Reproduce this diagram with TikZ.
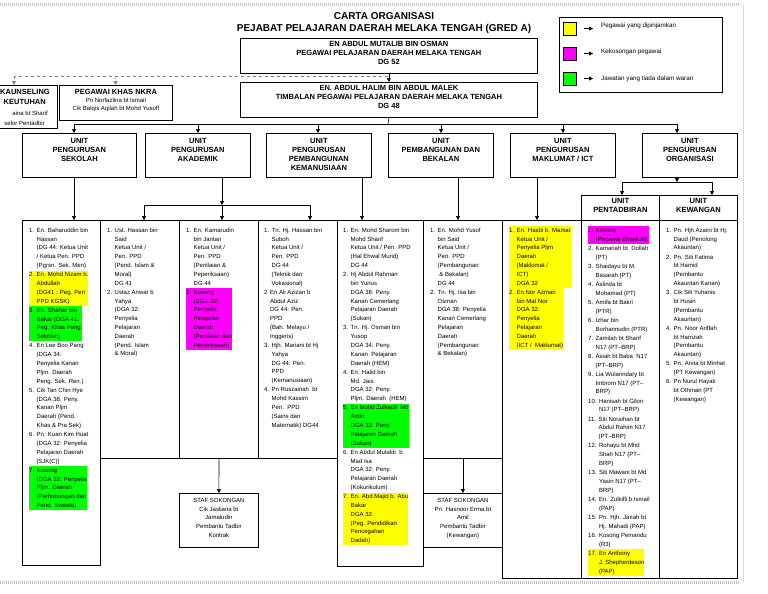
\documentclass[tikz,border=0pt]{standalone}
\usepackage{fontspec}
\setmainfont{Liberation Sans}
\usetikzlibrary{arrows.meta}
\definecolor{yel}{HTML}{FFFF00}
\definecolor{mag}{HTML}{FF00FF}
\definecolor{grn}{HTML}{00FF00}
\newcommand\fs{\fontsize{6}{8.8}\selectfont}
\newcommand\hd{\fontsize{7.5}{9.2}\selectfont\bfseries}
\newcommand\itm[2]{\begin{tabular}{@{}l@{\hspace{2.5pt}}l@{}}#1&#2\end{tabular}}
\tikzset{
  arr/.style={-{Triangle[length=4pt,width=4pt]}, line width=0.6pt},
  box/.style={draw, line width=0.8pt, inner sep=0pt, anchor=north west},
  it/.style={anchor=north west, inner sep=0pt, font=\fs, align=left},
  ttl/.style={anchor=north, inner sep=0pt, font=\hd, align=center},
  sm/.style={inner sep=0pt, font=\fs, align=center},
  hatch/.style={gray!45, line width=3pt, dash pattern=on 1.2pt off 0.8pt}
}
\begin{document}
\begin{tikzpicture}[x=1pt,y=-1pt]
\useasboundingbox (0,0) rectangle (768,594);
\clip (0,0) rectangle (768,594);
\fill[white] (0,0) rectangle (768,594);
\draw[hatch] (0,5) -- (740,5);
\draw[hatch] (0,582) -- (740,582);
\draw[gray!30, line width=1pt] (743,5) -- (743,582);

% title
\node[font=\fontsize{10}{12}\selectfont\bfseries, align=center] (title) at (384,23) {CARTA ORGANISASI\\PEJABAT PELAJARAN DAERAH MELAKA TENGAH (GRED A)};

% top boxes
\node[box, minimum width=297, minimum height=35] (ppd) at (240,38) {};
\node[ttl] (ppdT) at ([yshift=-3pt]ppd.north) {EN ABDUL MUTALIB BIN OSMAN\\PEGAWAI PELAJARAN DAERAH MELAKA TENGAH\\DG 52};
\node[box, minimum width=297, minimum height=35] (tppd) at (240,82) {};
\node[ttl] (tppdT) at ([yshift=-3pt]tppd.north) {EN. ABDUL HALIM BIN ABDUL MALEK\\TIMBALAN PEGAWAI PELAJARAN DAERAH MELAKA TENGAH\\DG 48};
\draw[arr] (ppd.south) -- (tppd.north);

\node[box, minimum width=97, minimum height=43] (kau) at (-40,85) {};
\node[font=\hd, anchor=east, inner sep=0pt] (kau1) at (50,92) {KAUNSELING};
\node[font=\hd, anchor=east, inner sep=0pt] (kau2) at (46,102) {KEUTUHAN};
\node[font=\fs, anchor=east, inner sep=0pt] (kau3) at (48,113) {aina bt Sharif};
\node[font=\fs, anchor=east, inner sep=0pt] (kau4) at (45,123) {selor Pentadbir};
\node[box, minimum width=113, minimum height=35] (nkra) at (59,85) {};
\node[ttl] (nkraT) at ([yshift=-4pt]nkra.north) {PEGAWAI KHAS NKRA\\[-1pt]{\fs\mdseries Pn Norfazlina bt Ismail}\\[-1pt]{\fs\mdseries Cik Balqis Aqilah bt Mohd Yusoff}};
\coordinate (dj) at (388,76);
\draw[dashed, gray, line width=0.7pt] (dj) -- (14,76);
\draw[arr, dashed, gray] (14,76) -- (14,85);
\draw[arr, dashed, gray] (115,76) -- (nkra.north);

% unit boxes
\node[box, minimum width=114, minimum height=44] (sek) at (22,133) {};
\node[ttl] (sekT) at ([yshift=-5pt]sek.north) {UNIT\\PENGURUSAN\\SEKOLAH};
\node[box, minimum width=105, minimum height=44] (aka) at (145,133) {};
\node[ttl] (akaT) at ([yshift=-5pt]aka.north) {UNIT\\PENGURUSAN\\AKADEMIK};
\node[box, minimum width=105, minimum height=44] (kem) at (266,133) {};
\node[ttl] (kemT) at ([yshift=-5pt]kem.north) {UNIT\\PENGURUSAN\\PEMBANGUNAN\\KEMANUSIAAN};
\node[box, minimum width=105, minimum height=44] (pem) at (388,133) {};
\node[ttl] (pemT) at ([yshift=-5pt]pem.north) {UNIT\\PEMBANGUNAN DAN\\BEKALAN};
\node[box, minimum width=105, minimum height=44] (mak) at (510,133) {};
\node[ttl] (makT) at ([yshift=-5pt]mak.north) {UNIT\\PENGURUSAN\\MAKLUMAT / ICT};
\node[box, minimum width=95, minimum height=44] (org) at (642,133) {};
\node[ttl] (orgT) at ([yshift=-5pt]org.north) {UNIT\\PENGURUSAN\\ORGANISASI};

\draw[line width=0.6pt] (tppd.south) -- (388,124);
\draw[line width=0.6pt] (74,124) -- (677,124);
\draw[arr] (74,124) -- (74,133);
\draw[arr] (198,124) -- (198,133);
\draw[arr] (318,124) -- (318,133);
\draw[arr] (441,124) -- (441,133);
\draw[arr] (563,124) -- (563,133);
\draw[arr] (677,124) -- (677,133);

% column boxes
\node[box, minimum width=78, minimum height=345] (k1) at (22,220) {};
\node[box, minimum width=79, minimum height=238] (k2) at (100,220) {};
\node[box, minimum width=79, minimum height=238] (k3) at (179,220) {};
\node[box, minimum width=79, minimum height=238] (k4) at (258,220) {};
\node[box, minimum width=86, minimum height=346] (k5) at (337,220) {};
\node[box, minimum width=79, minimum height=238] (k6) at (423,220) {};
\node[box, minimum width=79, minimum height=358] (k7) at (502,220) {};
\node[box, minimum width=78, minimum height=25] (pent) at (581,195) {};
\node[ttl] (pentT) at ([yshift=-3pt]pent.north) {UNIT\\PENTADBIRAN};
\node[box, minimum width=78, minimum height=25] (kew) at (659,195) {};
\node[ttl] (kewT) at ([yshift=-3pt]kew.north) {UNIT\\KEWANGAN};
\node[box, minimum width=78, minimum height=358] (k8) at (581,220) {};
\node[box, minimum width=78, minimum height=358] (k9) at (659,220) {};

% connectors to columns
\draw[arr] (74,177) -- (74,220);
\draw[arr] (222,177) -- (222,205);
\draw[line width=0.6pt] (144,205) -- (310,205);
\draw[arr] (144,205) -- (144,220);
\draw[arr] (222,205) -- (222,220);
\draw[arr] (310,205) -- (310,220);
\draw[arr] (362,177) -- (362,220);
\draw[arr] (458,177) -- (458,220);
\draw[arr] (537,177) -- (537,220);
\draw[arr] (677,177) -- (677,182);
\draw[line width=0.6pt] (622,182) -- (712,182);
\draw[arr] (622,182) -- (622,195);
\draw[arr] (712,182) -- (712,195);

% staff boxes
\node[box, minimum width=79, minimum height=54] (st1) at (179,493) {};
\node[sm, anchor=north] (st1T) at ([yshift=-5pt]st1.north) {STAF SOKONGAN\\Cik Jasliana bt\\Jamaludin\\Pembantu Tadbir\\Kontrak};
\draw[arr] (219,458) -- (st1.north);
\node[box, minimum width=79, minimum height=54] (st2) at (423,493) {};
\node[sm, anchor=north] (st2T) at ([yshift=-5pt]st2.north) {STAF SOKONGAN\\Pn. Hasnoor Erma bt\\Amil\\Pembantu Tadbir\\(Kewangan)};
\draw[arr] (k6.south) -- (st2.north);

% column 1
\node[it] (c1a) at (29,226) {\itm{1.}{En. Baharuddin bin\\&Hassan\\&(DG 44: Ketua Unit\\&/ Ketua Pen. PPD\\&(Pgrsn. Sek. Men)}};
\node[it, fill=yel] (c1b) at (c1a.south west) {\itm{2.}{En. Mohd Nizam b.\\&Abdullah\\&(DG41 : Peg. Pen\\&PPD KGSK)}};
\node[it, fill=grn] (c1c) at (c1b.south west) {\itm{3.}{En. Shahar bin\\&Bakar (DGA 41:\\&Peg. Khas Peng.\\&Sekolah)}};
\node[it] (c1d) at (c1c.south west) {\itm{4.}{En Lee Boo Pang\\&(DGA 34:\\&Penyelia Kanan\\&Pljm. Daerah\\&Peng. Sek. Ren.)}};
\node[it] (c1e) at (c1d.south west) {\itm{5.}{Cik Tan Chin Hye\\&(DGA 38: Peny.\\&Kanan Pljm\\&Daerah (Pend.\\&Khas \& Pra Sek)}};
\node[it] (c1f) at (c1e.south west) {\itm{6.}{Pn. Kuan Kim Huat\\&(DGA 32: Penyelia\\&Pelajaran Daerah\\&[SJK(C)]}};
\node[it, fill=grn] (c1g) at (c1f.south west) {\itm{7.}{Kosong\\&(DGA 32: Penyelia\\&Pljm. Daerah\\&(Perhubungan dan\\&Pend. Swasta)}};

% column 2
\node[it] (c2a) at (107,226) {\itm{1.}{Ust. Hassan bin\\&Said\\&Ketua Unit /\\&Pen. PPD\\&(Pend. Islam \&\\&Moral)\\&DG 41}};
\node[it] (c2b) at (c2a.south west) {\itm{2.}{Ustaz Anwar b\\&Yahya\\&(DGA 32:\\&Penyelia\\&Pelajaran\\&Daerah\\&(Pend. Islam\\&\& Moral)}};

% column 3
\node[it] (c3a) at (186,226) {\itm{1.}{En. Kamarudin\\&bin Jantan\\&Ketua Unit /\\&Pen. PPD\\&(Penilaian \&\\&Peperiksaan)\\&DG 44}};
\node[it, fill=mag] (c3b) at (c3a.south west) {\itm{2.}{Kosong\\&(DGA 32:\\&Penyelia\\&Pelajaran\\&Daerah\\&(Penilaian dan\\&Peperiksaan)}};

% column 4
\node[it] (c4a) at (264,226) {\itm{1.}{Tn. Hj. Hassan bin\\&Suboh\\&Ketua Unit /\\&Pen. PPD\\&DG 44\\&(Teknik dan\\&Vokasional)}};
\node[it] (c4b) at (c4a.south west) {\itm{2}{En Ali Azizan b\\&Abdul Aziz\\&DG 44: Pen.\\&PPD\\&(Bah. Melayu /\\&Inggeris)}};
\node[it] (c4c) at (c4b.south west) {\itm{3.}{Hjh. Mariani bt Hj\\&Yahya\\&DG 44: Pen.\\&PPD\\&(Kemanusiaan)}};
\node[it] (c4d) at (c4c.south west) {\itm{4.}{Pn Ruszainah\ \ bt\\&Mohd Kassim\\&Pen.\ \ PPD\\&(Sains dan\\&Matematik) DG44}};

% column 5
\node[it] (c5a) at (343,226) {\itm{1.}{En. Mohd Sharom bin\\&Mohd Sharif\\&Ketua Unit / Pen. PPD\\&(Hal Ehwal Murid)\\&DG 44}};
\node[it] (c5b) at (c5a.south west) {\itm{2.}{Hj Abdul Rahman\\&bin Yunus\\&DGA 38: Peny.\\&Kanan Cemerlang\\&Pelajaran Daerah\\&(Sukan)}};
\node[it] (c5c) at (c5b.south west) {\itm{3.}{Tn. Hj. Osman bin\\&Yusop\\&DGA 34: Peny.\\&Kanan\ \ Pelajaran\\&Daerah (HEM)}};
\node[it] (c5d) at (c5c.south west) {\itm{4.}{En. Halid bin\\&Md. Jais\\&DGA 32: Peny.\\&Pljm. Daerah\ \ (HEM)}};
\node[it, fill=grn] (c5e) at (c5d.south west) {\itm{5.}{En Mohd Zulkepli\ \ Md\\&Amin\\&DGA 32: Peny.\\&Pelajaran Daerah\\&(Sukan)}};
\node[it] (c5f) at (c5e.south west) {\itm{6.}{En Abdul Mutalib\ \ b\\&Mad Isa\\&DGA 32: Peny.\\&Pelajaran Daerah\\&(Kokurikulum)}};
\node[it, fill=yel] (c5g) at (c5f.south west) {\itm{7.}{En. Abd.Majid b. Abu\\&Bakar\\&DGA 32:\\&(Peg. Pendidikan\\&Pencegahan\\&Dadah)}};

% column 6
\node[it] (c6a) at (430,226) {\itm{1.}{En. Mohd Yusof\\&bin Said\\&Ketua Unit /\\&Pen. PPD\\&(Pembangunan\\&\ \& Bekalan)\\&DG 44}};
\node[it] (c6b) at (c6a.south west) {\itm{2.}{Tn. Hj. Isa bin\\&Osman\\&DGA 38: Penyelia\\&Kanan Cemerlang\\&Pelajaran\\&Daerah\\&(Pembangunan\\&\& Bekalan)}};

% column 7
\node[it, fill=yel] (c7a) at (509,226) {\itm{1.}{En. Hasbi b. Mamat\\&Ketua Unit /\\&Penyelia Pljm\\&Daerah\\&(Maklumat /\\&ICT)\\&DGA 32}};
\node[it, fill=yel] (c7b) at (c7a.south west) {\itm{2.}{En.Nor Azman\\&bin Mat Nor\\&DGA 32:\\&Penyelia\\&Pelajaran\\&Daerah\\&(ICT /\ \ Maklumat)}};

% column 8
\node[it, fill=mag] (c8a) at (588,226) {\itm{1.}{Kosong\\&(Pegawai Eksekutif)}};
\node[it] (c8b) at (c8a.south west) {\itm{2.}{Kamariah bt\ \ Dollah\\&(PT)}};
\node[it] (c8c) at (c8b.south west) {\itm{3.}{Shaidayu bt M.\\&Basarah (PT)}};
\node[it] (c8d) at (c8c.south west) {\itm{4.}{Aslinda bt\\&Mohamad (PT)}};
\node[it] (c8e) at (c8d.south west) {\itm{5.}{Amifa bt Bakri\\&(PTR)}};
\node[it] (c8f) at (c8e.south west) {\itm{6.}{Izhar bin\\&Borhannudin (PTR)}};
\node[it] (c8g) at (c8f.south west) {\itm{7.}{Zamilah bt Sharif\\&N17 (PT--BRP)}};
\node[it] (c8h) at (c8g.south west) {\itm{8.}{Asiah bt Baba\ \ N17\\&(PT--BRP)}};
\node[it] (c8i) at (c8h.south west) {\itm{9.}{Lia Wulanndary bt\\&Imbrom N17 (PT--\\&BRP)}};
\node[it] (c8j) at (c8i.south west) {\itm{10.}{Hanisah bt Gilon\\&N17 (PT--BRP)}};
\node[it] (c8k) at (c8j.south west) {\itm{11.}{Siti Noraihan bt\\&Abdul Rahim N17\\&(PT--BRP)}};
\node[it] (c8l) at (c8k.south west) {\itm{12.}{Rohayu bt Mhd\\&Shah N17 (PT--\\&BRP)}};
\node[it] (c8m) at (c8l.south west) {\itm{13.}{Siti Mawani bt Md\\&Yasin N17 (PT--\\&BRP)}};
\node[it] (c8n) at (c8m.south west) {\itm{14.}{En. Zulkifli b Ismail\\&(PAP)}};
\node[it] (c8o) at (c8n.south west) {\itm{15.}{Pn. Hjh. Jariah bt\\&Hj. Mahadi (PAP)}};
\node[it] (c8p) at (c8o.south west) {\itm{16.}{Kosong Pemandu\\&(R3)}};
\node[it, fill=yel] (c8q) at (c8p.south west) {\itm{17.}{En Anthony\\&J. Shepherdeson\\&(PAP)}};

% column 9
\node[it] (c9a) at (666,226) {\itm{1.}{Pn. Hjh Azaini bt Hj.\\&Daud (Penolong\\&Akauntan)}};
\node[it] (c9b) at (c9a.south west) {\itm{2.}{Pn. Siti Fatima\\&bt Hamid\\&(Pembantu\\&Akauntan Kanan)}};
\node[it] (c9c) at (c9b.south west) {\itm{3.}{Cik Siti Yuhanis\\&bt Husin\\&(Pembantu\\&Akauntan)}};
\node[it] (c9d) at (c9c.south west) {\itm{4.}{Pn. Noor Ariffah\\&bt Hamzah\\&(Pembantu\\&Akauntan)}};
\node[it] (c9e) at (c9d.south west) {\itm{5.}{Pn. Anita bt Minhat\\&(PT Kewangan)}};
\node[it] (c9f) at (c9e.south west) {\itm{6.}{Pn Nurul Hayati\\&bt Othman (PT\\&(Kewangan)}};

% legend
\node[box, minimum width=163, minimum height=75] (leg) at (559,17) {};
\node[draw, fill=yel, minimum size=13, inner sep=0pt] (s1) at (569.5,28.5) {};
\node[draw, fill=mag, minimum size=13, inner sep=0pt] (s2) at (569.5,53.5) {};
\node[draw, fill=grn, minimum size=13, inner sep=0pt] (s3) at (569.5,78.5) {};
\node[anchor=west, inner sep=0pt, font=\fontsize{6.3}{8}\selectfont] (l1) at (601,26) {Pegawai yang dipinjamkan};
\node[anchor=west, inner sep=0pt, font=\fontsize{6.3}{8}\selectfont] (l2) at (601,52) {Kekosongan pegawai};
\node[anchor=west, inner sep=0pt, font=\fontsize{6.3}{8}\selectfont] (l3) at (601,79) {Jawatan yang tiada dalam waran};
\draw[arr] ([xshift=8pt]s1.east) -- ([xshift=-8pt]s1.east -| l1.west);
\draw[arr] ([xshift=8pt]s2.east) -- ([xshift=-8pt]s2.east -| l2.west);
\draw[arr] ([xshift=8pt]s3.east) -- ([xshift=-8pt]s3.east -| l3.west);
\end{tikzpicture}
\end{document}
